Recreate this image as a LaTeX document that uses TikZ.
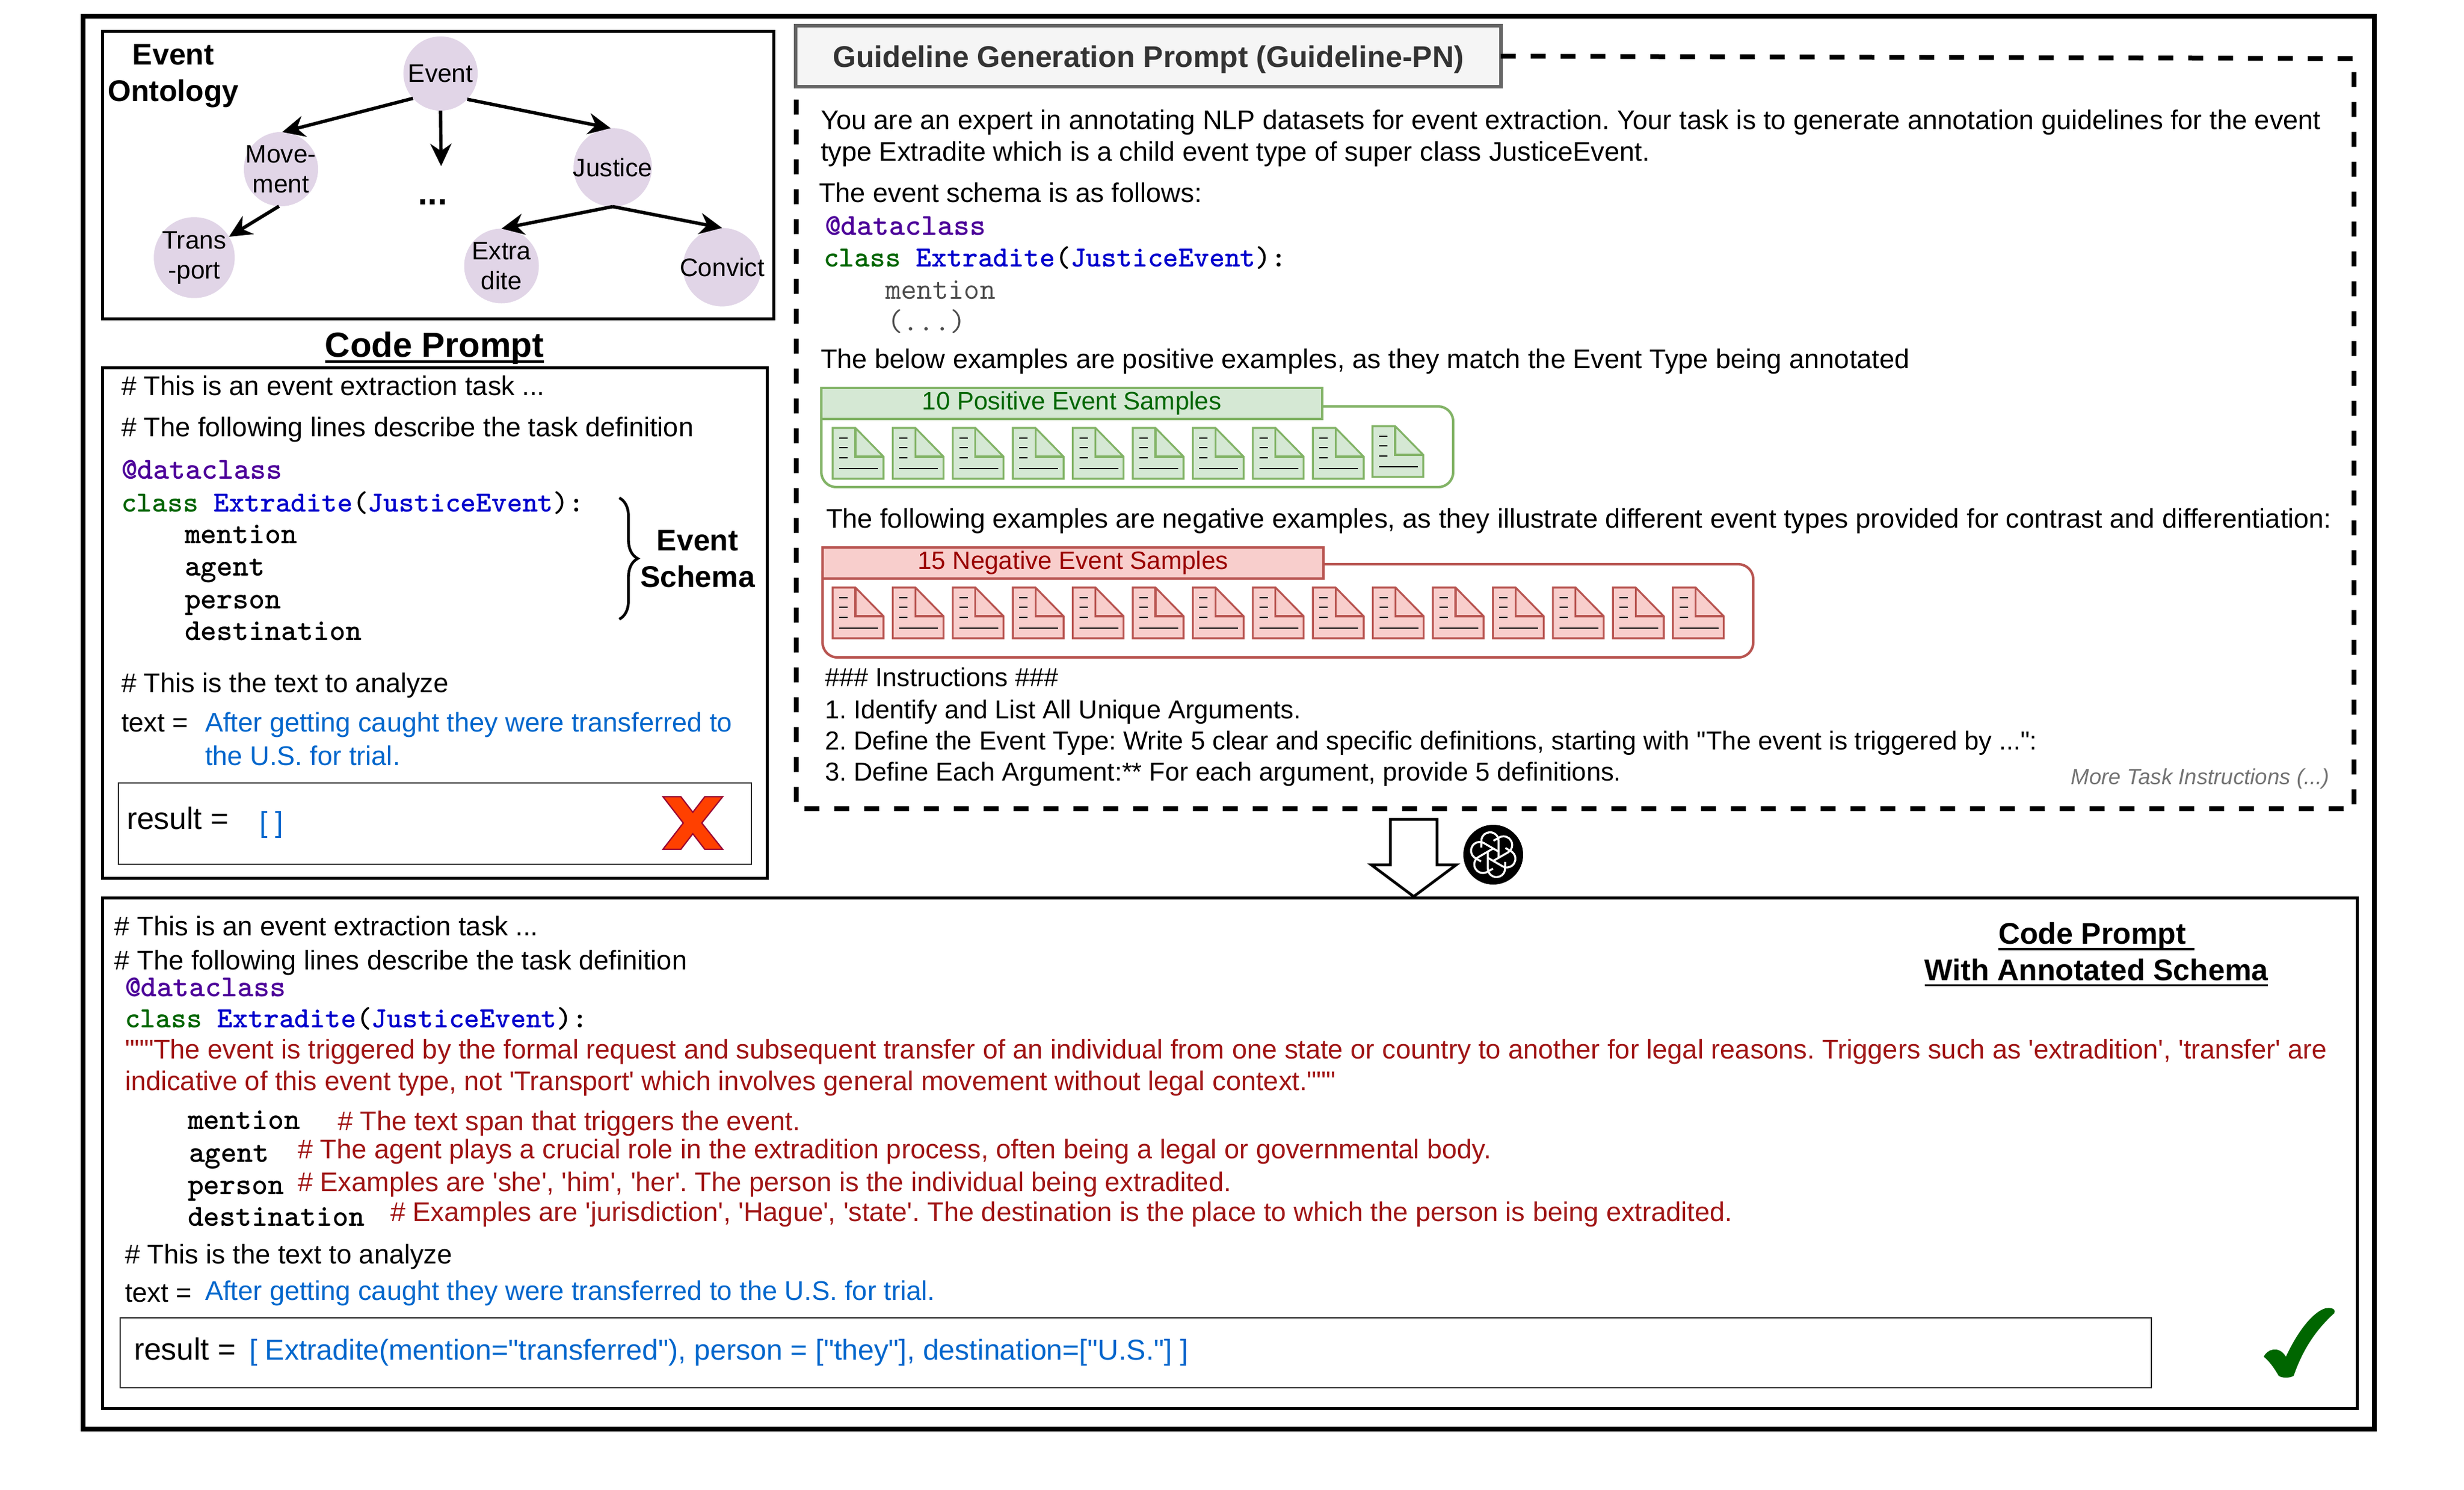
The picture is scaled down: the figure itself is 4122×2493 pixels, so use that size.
\documentclass[tikz,border=0pt]{standalone}
\usepackage{fontspec}
\usetikzlibrary{calc,positioning,shapes,arrows.meta,decorations.pathreplacing}
\newfontfamily\armfont{Liberation Sans}
\frenchspacing
\newcommand{\bodysize}{\armfont\fontsize{10.85}{12.6}\selectfont}
\newcommand{\stepsize}{\armfont\fontsize{10.42}{12.6}\selectfont}
\newcommand{\resultsize}{\armfont\fontsize{11.6}{13}\selectfont}
\newcommand{\labelsize}{\armfont\fontsize{12.4}{14}\selectfont}
\newcommand{\codesize}{\ttfamily\fontsize{12.3}{14}\selectfont}
\definecolor{keyword green}{HTML}{006400}
\definecolor{class blue}{HTML}{0000CC}
\definecolor{deco purple}{HTML}{4C0099}
\definecolor{doc red}{HTML}{A01414}
\definecolor{value blue}{HTML}{0066CC}
\definecolor{concept fill}{HTML}{E1D5E7}
\definecolor{pos line}{HTML}{82B366}
\definecolor{pos fill}{HTML}{D5E8D4}
\definecolor{pos text}{HTML}{006600}
\definecolor{neg line}{HTML}{B85450}
\definecolor{neg fill}{HTML}{F8CECC}
\definecolor{neg text}{HTML}{990000}
\newcommand{\classline}{\fontsize{11.8}{14}\selectfont\textcolor{keyword green}{class} \textcolor{class blue}{Extradite}(\textcolor{class blue}{JusticeEvent}):}
\newcommand{\headline}[1]{\setbox0\hbox{#1}\leavevmode\rlap{\rule[-2.3pt]{\wd0}{.9pt}}\box0}
\tikzset{
  docpage/.pic={
    \path[pic actions] (0,0) -- (38,0) -- (85,48) -- (85,85) -- (0,85) -- cycle;
    \path[pic actions,fill=none] (38,0) -- (38,48) -- (85,48);
    \foreach \row in {17,33,50} \draw[black,line width=.35pt] (11,\row) -- (25,\row);
    \draw[black,line width=.5pt] (11,68) -- (76,68);
  }
}
\begin{document}
\begin{tikzpicture}[
  x=.24pt, y=-.24pt,
  frame box/.style={draw=black, line width=1.2pt},
  result box/.style={draw=black!85, line width=.55pt},
  concept/.style={
    circle,
    fill=concept fill,
    minimum size=#1,
    inner sep=-12pt,
    outer sep=0pt,
    align=center,
    font=\armfont\fontsize{10.2}{12}\selectfont
  },
  link/.style={-{Stealth[length=9pt,width=8.5pt]}, line width=1.35pt},
  prompt text/.style={
    anchor=west, inner sep=0pt, outer sep=0pt,
    text height=7.7pt, text depth=2.2pt,
    font=\bodysize
  },
  step text/.style={prompt text, font=\stepsize},
  result text/.style={
    anchor=west, inner sep=0pt, outer sep=0pt,
    text height=8.2pt, text depth=2.4pt,
    font=\resultsize
  },
  result label/.style={result text, font=\labelsize},
  code text/.style={
    anchor=west, inner sep=0pt, outer sep=0pt,
    text height=7.7pt, text depth=2.2pt,
    font=\codesize\bfseries
  },
  plain code/.style={
    anchor=west, inner sep=0pt, outer sep=0pt,
    text height=7.7pt, text depth=2.2pt,
    text=black!70,
    font=\codesize
  },
  strong label/.style={
    align=center, inner sep=0pt,
    font=\armfont\bfseries\fontsize{12}{14.8}\selectfont
  },
  sample header/.style={
    rectangle,
    line width=1pt,
    minimum width=201pt, minimum height=12.4pt,
    inner sep=0pt, outer sep=0pt,
    font=\armfont\fontsize{10.1}{12}\selectfont
  },
  positive/.style={draw=pos line, fill=pos fill, text=pos text},
  negative/.style={draw=neg line, fill=neg fill, text=neg text},
  sample doc/.style={line width=.75pt}
  ]
\useasboundingbox (0,0) rectangle (4122,2493);
\draw[draw=black, line width=1.92pt] (139,27) rectangle (3972,2391);
% Event Ontology
\draw[frame box] (171,52) rectangle (1294,533);
\node [strong label] (ontology title) at (290,127) {Event\\Ontology};
\node [concept=29.8pt] (event) at (737,123) {Event};
\node [concept=29.8pt] (movement) at (470,283) {Move-\\ment};
\node [concept=31.5pt] (justice) at (1025,280) {Justice};
\node [concept=32.5pt] (transport) at (325,431) {Trans\\-port};
\node [concept=30pt] (extradite) at (839,445) {Extra\\dite};
\node [concept=31.5pt] (convict) at (1208,447) {Convict};
\node [inner sep=0pt, font=\armfont\bfseries\fontsize{14}{16}\selectfont] (more events) at (724,338) {...};
\coordinate (more events top) at (738,278);
\draw[link] (event.222) -- (movement.88);
\draw[link] (event.south) -- (more events top);
\draw[link] (event.-44) -- (justice.93);
\draw[link] (movement.-93) -- (transport.31);
\draw[link] (justice.south) -- (extradite.north);
\draw[link] (justice.south) -- (convict.north);
% Code Prompt
\node [inner sep=0pt, font=\armfont\bfseries\fontsize{14}{17}\selectfont] (code title) at (727,582) {\headline{Code Prompt}};
\draw[frame box] (171,615) rectangle (1283,1469);
\node [prompt text] (task line) at (203,650) {\# This is an event extraction task ...};
\node [prompt text] (definition line) at (203,719) {\# The following lines describe the task definition};
\node [code text, text=deco purple] (dataclass line) at (203,790) {@dataclass};
\node [code text] (class line) at (203,845) {\classline};
\node [code text] (mention line) at (309,898) {mention};
\node [code text] (agent line) at (309,952) {agent};
\node [code text] (person line) at (309,1007) {person};
\node [code text] (destination line) at (309,1060) {destination};
\draw[line width=1.1pt, decorate, decoration={brace,amplitude=7.4pt}] (1036,833) -- (1036,1036);
\node [strong label] (schema title) at (1167,935) {Event\\Schema};
\node [prompt text] (analyze line) at (203,1147) {\# This is the text to analyze};
\node [prompt text] (text line) at (203,1213) {text =};
\node [prompt text, text=value blue] (sentence one) at (343,1213) {After getting caught they were transferred to};
\node [prompt text, text=value blue] (sentence two) at (343,1269) {the U.S. for trial.};
\draw[result box] (198,1310) rectangle (1257,1446);
\node [result label] (empty result) at (212,1375) {result =};
\node [result text, text=value blue] (empty list) at (434,1380) {[ ]};
\draw[fill=red!75!yellow, draw=purple!80!black, line width=.5pt] (1109,1333) -- (1139,1333) -- (1159,1359) -- (1179,1333) -- (1209,1333) -- (1174,1377) -- (1209,1421) -- (1179,1421) -- (1159,1395) -- (1139,1421) -- (1109,1421) -- (1143,1377) -- cycle;
% Guideline Prompt
\node [rectangle, draw=black!60, fill=black!4, line width=1.45pt, minimum width=283pt, minimum height=24.6pt, inner sep=0pt, outer sep=0pt, text=black!80, text depth=0pt, font=\armfont\bfseries\fontsize{12}{14}\selectfont] (guideline header) at (1921,94) {Guideline Generation Prompt (Guideline-PN)};
\draw[line width=1.92pt, dash pattern=on 6pt off 6pt] (guideline header.east) -- (3938,98) -- (3938,1353) -- (1332,1353) -- (1332,147);
\node [prompt text] (expert line) at (1373,205) {You are an expert in annotating NLP datasets for event extraction. Your task is to generate annotation guidelines for the event};
\node [prompt text] (type line) at (1373,258) {type Extradite which is a child event type of super class JusticeEvent.};
\node [prompt text] (schema line) at (1370,327) {The event schema is as follows:};
\node [code text, text=deco purple] (guide dataclass) at (1380,382) {@dataclass};
\node [code text] (guide class) at (1378,435) {\classline};
\node [plain code] (guide mention) at (1481,489) {mention};
\node [plain code] (guide rest) at (1484,542) {(...)};
\node [prompt text] (positive line) at (1373,605) {The below examples are positive examples, as they match the Event Type being annotated};
% Positive samples
\draw[positive, fill=none, line width=1pt, rounded corners=6pt] (2212,680) -- (2431,680) -- (2431,815) -- (1374,815) -- (1374,690);
\node [sample header, positive] (positive header) at (1793,675) {10 Positive Event Samples};
\foreach \i in {0,...,8} \pic[draw=pos line, fill=pos fill, sample doc] at ({1393+100.4*\i},716) {docpage};
\pic[draw=pos line, fill=pos fill, sample doc] at (2296,713) {docpage};
\node [prompt text] (negative line) at (1382,872) {The following examples are negative examples, as they illustrate different event types provided for contrast and differentiation:};
% Negative samples
\draw[negative, fill=none, line width=1pt, rounded corners=6pt] (2215,944) -- (2933,944) -- (2933,1100) -- (1376,1100) -- (1376,955);
\node [sample header, negative] (negative header) at (1795,942) {15 Negative Event Samples};
\foreach \i in {0,...,14} \pic[draw=neg line, fill=neg fill, sample doc] at ({1393+100.4*\i},983) {docpage};
\node [step text] (instructions line) at (1380,1137) {\#\#\# Instructions \#\#\#};
\node [step text] (first step) at (1380,1191) {1. Identify and List All Unique Arguments.};
\node [step text] (second step) at (1380,1243) {2. Define the Event Type: Write 5 clear and specific definitions, starting with "The event is triggered by ...":};
\node [step text] (third step) at (1380,1295) {3. Define Each Argument:** For each argument, provide 5 definitions.};
\node [anchor=east, inner sep=0pt, text=black!55, font=\armfont\itshape\fontsize{8.8}{10}\selectfont] (more steps) at (3898,1303) {More Task Instructions (...)};
% Arrow and logo
\draw[line width=1.1pt, fill=white] (2326,1371) -- (2404,1371) -- (2404,1447) -- (2436,1447) -- (2365,1500) -- (2294,1447) -- (2326,1447) -- cycle;
\node [circle, fill=black, minimum size=24pt, inner sep=0pt] (model logo) at (2498,1430) {};
\begin{scope}[shift={(model logo.center)}, x=.24pt, y=.24pt, line width=.8pt, white]
  \foreach \a in {0,60,...,300}
    \draw[rotate=\a] (9,-6) -- (9,23) arc[start angle=0, end angle=170, radius=14.5] -- (-20,12);
\end{scope}
% Annotated Code Prompt
\draw[frame box] (171,1502) rectangle (3943,2356);
\node [strong label, font=\armfont\bfseries\fontsize{12}{14.6}\selectfont] (annotated title) at (3507,1597) {\headline{Code Prompt\ }\\\headline{With Annotated Schema}};
\node [prompt text] (annotated task) at (192,1554) {\# This is an event extraction task ...};
\node [prompt text] (annotated definition) at (192,1611) {\# The following lines describe the task definition};
\node [code text, text=deco purple] (annotated dataclass) at (209,1656) {@dataclass};
\node [code text] (annotated class) at (209,1708) {\classline};
\node [prompt text, text=doc red] (doc one) at (209,1760) {"""The event is triggered by the formal request and subsequent transfer of an individual from one state or country to another for legal reasons. Triggers such as 'extradition', 'transfer' are};
\node [prompt text, text=doc red] (doc two) at (209,1813) {indicative of this event type, not 'Transport' which involves general movement without legal context."""};
\node [code text] (annotated mention) at (314,1878) {mention};
\node [prompt text, text=doc red] (mention note) at (565,1880) {\# The text span that triggers the event.};
\node [code text] (annotated agent) at (316,1933) {agent};
\node [prompt text, text=doc red] (agent note) at (498,1927) {\# The agent plays a crucial role in the extradition process, often being a legal or governmental body.};
\node [code text] (annotated person) at (314,1987) {person};
\node [prompt text, text=doc red] (person note) at (498,1982) {\# Examples are 'she', 'him', 'her'. The person is the individual being extradited.};
\node [code text] (annotated destination) at (314,2040) {destination};
\node [prompt text, text=doc red] (destination note) at (653,2032) {\# Examples are 'jurisdiction', 'Hague', 'state'. The destination is the place to which the person is being extradited.};
\node [prompt text] (annotated analyze) at (209,2103) {\# This is the text to analyze};
\node [prompt text] (annotated text) at (209,2167) {text =};
\node [prompt text, text=value blue] (annotated sentence) at (343,2164) {After getting caught they were transferred to the U.S. for trial.};
\draw[result box] (201,2205) rectangle (3599,2322);
\node [result label] (annotated result) at (224,2263) {result =};
\node [result text, text=value blue] (annotated value) at (417,2263) {[ Extradite(mention="transferred"), person = ["they"], destination=["U.S."] ]};
\fill[green!40!black] (3787,2270) .. controls (3792,2258) and (3812,2250) .. (3824,2270) .. controls (3845,2225) and (3870,2195) .. (3890,2189) .. controls (3900,2187) and (3908,2190) .. (3905,2197) .. controls (3880,2220) and (3855,2250) .. (3837,2302) .. controls (3830,2306) and (3818,2306) .. (3812,2302) .. controls (3805,2290) and (3797,2278) .. (3787,2270) -- cycle;
\end{tikzpicture}
\end{document}
